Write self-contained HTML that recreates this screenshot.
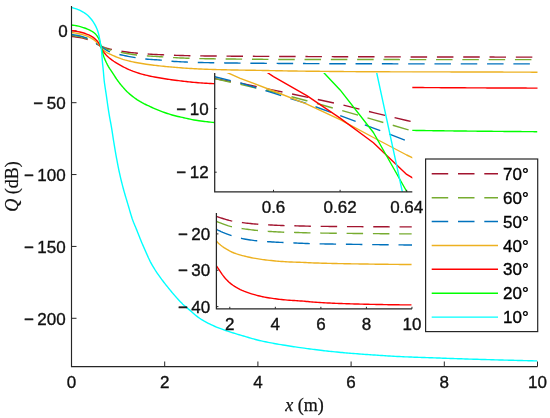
<!DOCTYPE html>
<html><head><meta charset="utf-8"><style>html,body{margin:0;padding:0;background:#fff;}svg{display:block;}</style></head><body>
<svg width="550" height="418" viewBox="0 0 550 418">
<defs>
<clipPath id="cpm"><rect x="71.5" y="0" width="470" height="367"/></clipPath>
<clipPath id="cp1"><rect x="214.7" y="72.9" width="197.60000000000002" height="118.9"/></clipPath>
<clipPath id="cp2"><rect x="216.4" y="212.9" width="195.6" height="95.9"/></clipPath>
</defs>
<rect width="550" height="418" fill="#fff"/>
<g stroke="#262626" stroke-width="1" fill="none">
<path d="M71.5,30.83 h5"/>
<path d="M71.5,102.69 h5"/>
<path d="M71.5,174.56 h5"/>
<path d="M71.5,246.43 h5"/>
<path d="M71.5,318.29 h5"/>
<path d="M71.50,366.5 v-5"/>
<path d="M164.70,366.5 v-5"/>
<path d="M257.90,366.5 v-5"/>
<path d="M351.10,366.5 v-5"/>
<path d="M444.30,366.5 v-5"/>
<path d="M537.50,366.5 v-5"/>
</g>
<g fill="none" stroke-width="1.4" stroke-linejoin="round" clip-path="url(#cpm)">
<path d="M71.50,36.52 L73.00,36.65 L74.49,36.80 L75.98,36.97 L77.96,37.25 L79.94,37.56 L81.41,37.84 L82.89,38.14 L84.35,38.49 L86.26,39.04 L88.12,39.71 L89.94,40.52 L91.72,41.43 L93.04,42.14 L94.37,42.86 L95.70,43.56 L97.03,44.24 L98.38,44.90 L99.74,45.54 L101.10,46.16 L102.93,46.96 L104.79,47.68 L106.69,48.28 L108.62,48.78 L110.08,49.11 L111.55,49.43 L113.02,49.73 L114.50,50.02 L115.97,50.31 L117.44,50.59 L118.92,50.86 L120.89,51.19 L122.87,51.49 L124.85,51.78 L126.83,52.04 L128.32,52.23 L129.81,52.41 L131.30,52.58 L132.79,52.74 L134.28,52.90 L135.77,53.06 L137.27,53.20 L138.76,53.34 L140.75,53.52 L142.25,53.65 L143.74,53.77 L145.24,53.89 L147.23,54.03 L149.23,54.15 L151.22,54.27 L153.22,54.37 L155.22,54.47 L156.72,54.54 L158.22,54.61 L159.71,54.67 L161.21,54.74 L162.71,54.80 L164.21,54.87 L165.71,54.94 L167.21,55.00 L168.71,55.07 L170.21,55.14 L172.20,55.22 L174.20,55.29 L176.20,55.35 L178.20,55.41 L180.20,55.47 L181.70,55.51 L183.20,55.55 L184.70,55.59 L186.20,55.62 L187.70,55.66 L189.20,55.69 L190.70,55.73 L192.20,55.76 L193.70,55.78 L195.20,55.81 L196.70,55.84 L198.70,55.87 L200.69,55.90 L202.69,55.92 L204.69,55.94 L206.69,55.97 L208.69,55.99 L210.69,56.01 L212.69,56.03 L214.69,56.05 L216.69,56.07 L218.19,56.08 L219.69,56.09 L221.19,56.11 L222.69,56.12 L224.19,56.13 L225.69,56.14 L227.19,56.15 L228.69,56.16 L230.19,56.17 L231.69,56.18 L233.19,56.19 L234.69,56.20 L236.19,56.21 L237.69,56.22 L239.19,56.23 L240.69,56.24 L242.19,56.25 L243.69,56.26 L245.19,56.27 L246.69,56.28 L248.19,56.29 L249.69,56.30 L251.69,56.31 L253.69,56.32 L255.69,56.33 L257.69,56.34 L259.69,56.36 L261.69,56.37 L263.19,56.37 L264.69,56.38 L266.19,56.39 L267.69,56.40 L269.19,56.40 L270.69,56.41 L272.19,56.42 L273.69,56.43 L275.19,56.43 L276.69,56.44 L278.19,56.45 L279.69,56.45 L281.19,56.46 L282.69,56.47 L284.19,56.47 L285.69,56.48 L287.19,56.49 L288.69,56.49 L290.69,56.50 L292.69,56.51 L294.69,56.52 L296.69,56.53 L298.69,56.54 L300.69,56.55 L302.69,56.55 L304.69,56.56 L306.69,56.57 L308.69,56.58 L310.19,56.58 L311.69,56.59 L313.19,56.60 L314.69,56.60 L316.19,56.61 L317.69,56.61 L319.19,56.62 L320.69,56.63 L322.19,56.63 L323.69,56.64 L325.19,56.64 L326.69,56.65 L328.19,56.65 L329.69,56.66 L331.19,56.67 L332.69,56.67 L334.19,56.68 L335.69,56.68 L337.19,56.69 L338.69,56.69 L340.19,56.70 L341.69,56.70 L343.19,56.71 L344.69,56.71 L346.19,56.72 L347.69,56.73 L349.19,56.73 L350.69,56.74 L352.19,56.74 L353.69,56.75 L355.19,56.75 L356.69,56.76 L358.19,56.76 L359.69,56.77 L361.69,56.77 L363.69,56.78 L365.69,56.79 L367.69,56.79 L369.69,56.80 L371.69,56.81 L373.69,56.81 L375.19,56.82 L376.69,56.82 L378.19,56.83 L379.69,56.83 L381.19,56.84 L382.69,56.84 L384.19,56.85 L385.69,56.85 L387.19,56.86 L388.69,56.86 L390.19,56.87 L391.69,56.87 L393.19,56.88 L394.69,56.88 L396.19,56.89 L397.69,56.89 L399.19,56.90 L400.69,56.90 L402.19,56.91 L403.69,56.91 L405.19,56.92 L406.69,56.92 L408.19,56.92 L409.69,56.93 L411.19,56.93 L412.69,56.94 L414.19,56.94 L415.69,56.95 L417.19,56.95 L418.69,56.95 L420.69,56.96 L422.69,56.96 L424.69,56.97 L426.69,56.97 L428.69,56.98 L430.69,56.98 L432.69,56.99 L434.69,56.99 L436.69,56.99 L438.69,57.00 L440.69,57.00 L442.69,57.00 L444.69,57.01 L446.69,57.01 L448.69,57.01 L450.69,57.02 L452.69,57.02 L454.69,57.02 L456.69,57.03 L458.69,57.03 L460.69,57.03 L462.69,57.03 L464.69,57.04 L466.69,57.04 L468.69,57.04 L470.69,57.05 L472.69,57.05 L474.69,57.05 L476.69,57.05 L478.69,57.06 L480.69,57.06 L482.69,57.06 L484.69,57.06 L486.19,57.07 L487.69,57.07 L489.19,57.07 L490.69,57.07 L492.19,57.07 L493.69,57.07 L495.19,57.08 L496.69,57.08 L498.19,57.08 L499.69,57.08 L501.19,57.08 L502.69,57.08 L504.19,57.08 L505.69,57.09 L507.19,57.09 L508.69,57.09 L510.19,57.09 L511.69,57.09 L513.19,57.09 L514.69,57.09 L516.19,57.09 L517.69,57.09 L519.19,57.09 L520.69,57.10 L522.19,57.10 L523.69,57.10 L525.19,57.10 L526.69,57.10 L528.69,57.10 L530.69,57.10 L532.68,57.10 L534.61,57.10 L536.40,57.10 L537.21,57.10" stroke="#A2142F" stroke-dasharray="16.5 9.8"/>
<path d="M71.50,35.53 L73.00,35.66 L74.49,35.82 L75.98,36.01 L77.96,36.31 L79.92,36.68 L81.87,37.12 L83.32,37.50 L84.76,37.93 L86.64,38.59 L88.47,39.37 L90.25,40.25 L91.56,40.98 L92.87,41.73 L94.17,42.49 L95.46,43.25 L96.77,43.99 L98.53,44.94 L100.30,45.87 L102.05,46.82 L103.80,47.76 L105.59,48.59 L107.45,49.24 L109.38,49.77 L110.84,50.12 L112.31,50.47 L113.77,50.81 L115.23,51.15 L116.70,51.48 L118.16,51.80 L120.12,52.21 L122.08,52.60 L124.05,52.97 L125.52,53.24 L127.00,53.50 L128.48,53.76 L129.96,54.00 L131.44,54.23 L132.93,54.45 L134.91,54.72 L136.89,54.97 L138.88,55.18 L140.87,55.38 L142.36,55.51 L143.86,55.64 L145.35,55.76 L146.85,55.87 L148.35,55.98 L150.34,56.11 L152.34,56.24 L153.83,56.33 L155.33,56.42 L156.83,56.50 L158.33,56.59 L159.83,56.68 L161.32,56.77 L162.82,56.86 L164.32,56.97 L165.81,57.07 L167.31,57.18 L168.80,57.29 L170.80,57.43 L172.80,57.56 L174.79,57.67 L176.79,57.77 L178.79,57.87 L180.28,57.94 L181.78,58.00 L183.28,58.07 L184.78,58.13 L186.28,58.19 L187.78,58.25 L189.28,58.30 L190.78,58.35 L192.28,58.40 L193.78,58.45 L195.28,58.49 L197.28,58.54 L199.28,58.58 L201.27,58.62 L203.27,58.66 L205.27,58.69 L207.27,58.73 L209.27,58.76 L211.27,58.79 L213.27,58.82 L215.27,58.84 L217.27,58.87 L218.77,58.89 L220.27,58.91 L221.77,58.93 L223.27,58.94 L224.77,58.96 L226.27,58.98 L227.77,58.99 L229.27,59.01 L230.77,59.02 L232.27,59.04 L233.77,59.05 L235.27,59.07 L236.77,59.08 L238.27,59.09 L239.77,59.11 L241.27,59.12 L242.77,59.13 L244.27,59.15 L245.77,59.16 L247.27,59.18 L248.77,59.19 L250.27,59.20 L251.77,59.22 L253.27,59.23 L254.77,59.25 L256.27,59.26 L257.77,59.27 L259.27,59.29 L260.77,59.30 L262.27,59.32 L263.77,59.33 L265.27,59.35 L266.77,59.36 L268.27,59.37 L269.77,59.39 L271.27,59.40 L272.77,59.41 L274.27,59.43 L275.77,59.44 L277.27,59.45 L278.77,59.46 L280.77,59.47 L282.77,59.48 L284.77,59.49 L286.77,59.49 L288.77,59.50 L290.77,59.50 L292.77,59.50 L294.77,59.50 L296.77,59.51 L298.77,59.51 L300.77,59.51 L302.77,59.51 L304.77,59.51 L306.77,59.52 L308.77,59.52 L310.77,59.52 L312.77,59.52 L314.77,59.52 L316.77,59.52 L318.77,59.53 L320.77,59.53 L322.77,59.53 L324.77,59.53 L326.77,59.53 L328.77,59.53 L330.77,59.54 L332.77,59.54 L334.77,59.54 L336.77,59.54 L338.77,59.54 L340.77,59.54 L342.77,59.54 L344.77,59.54 L346.77,59.55 L348.77,59.55 L350.77,59.55 L352.77,59.55 L354.77,59.55 L356.77,59.55 L358.77,59.55 L360.77,59.56 L362.77,59.56 L364.77,59.56 L366.77,59.56 L368.77,59.56 L370.77,59.56 L372.77,59.56 L374.77,59.56 L376.77,59.56 L378.77,59.57 L380.77,59.57 L382.77,59.57 L384.77,59.57 L386.77,59.57 L388.77,59.57 L390.77,59.57 L392.77,59.57 L394.77,59.57 L396.77,59.57 L398.77,59.57 L400.77,59.58 L402.77,59.58 L404.77,59.58 L406.77,59.58 L408.77,59.58 L410.77,59.58 L412.77,59.58 L414.77,59.58 L416.77,59.58 L418.77,59.58 L420.77,59.58 L422.77,59.58 L424.77,59.58 L426.27,59.58 L427.77,59.58 L429.27,59.59 L430.77,59.59 L432.27,59.59 L433.77,59.59 L435.27,59.59 L436.77,59.59 L438.27,59.59 L439.77,59.59 L441.27,59.59 L442.77,59.59 L444.27,59.59 L445.77,59.59 L447.27,59.59 L448.77,59.59 L450.27,59.59 L451.77,59.59 L453.27,59.59 L454.77,59.59 L456.27,59.59 L457.77,59.59 L459.27,59.59 L460.77,59.59 L462.27,59.59 L463.77,59.59 L465.27,59.59 L466.77,59.59 L468.27,59.59 L469.77,59.59 L471.27,59.60 L472.77,59.60 L474.27,59.60 L475.77,59.60 L477.27,59.60 L478.77,59.60 L480.27,59.60 L481.77,59.60 L483.27,59.60 L484.77,59.60 L486.27,59.60 L487.77,59.60 L489.27,59.60 L490.77,59.60 L492.27,59.60 L493.77,59.60 L495.27,59.60 L496.77,59.60 L498.27,59.60 L499.77,59.60 L501.27,59.60 L502.77,59.60 L504.27,59.60 L505.77,59.60 L507.27,59.60 L508.77,59.60 L510.27,59.60 L511.77,59.60 L513.27,59.60 L514.77,59.60 L516.27,59.60 L517.77,59.60 L519.27,59.60 L520.77,59.60 L522.27,59.60 L523.77,59.60 L525.27,59.60 L526.77,59.60 L528.27,59.60 L530.27,59.60 L532.26,59.60 L534.20,59.60 L535.96,59.60 L537.09,59.60" stroke="#77AC30" stroke-dasharray="16.5 9.8"/>
<path d="M71.49,34.53 L72.99,34.69 L74.49,34.88 L75.97,35.11 L77.94,35.46 L79.89,35.88 L81.82,36.38 L83.26,36.81 L84.68,37.29 L86.54,38.00 L88.36,38.82 L90.13,39.73 L91.87,40.72 L93.16,41.50 L94.44,42.28 L95.72,43.07 L97.00,43.85 L98.72,44.88 L100.41,45.93 L102.03,47.07 L103.59,48.30 L105.19,49.47 L106.89,50.49 L108.68,51.35 L110.54,52.08 L112.43,52.71 L114.35,53.26 L115.80,53.65 L117.26,54.01 L118.73,54.36 L120.19,54.70 L121.65,55.02 L123.61,55.44 L125.08,55.75 L126.55,56.04 L128.02,56.32 L129.50,56.60 L130.98,56.87 L132.46,57.12 L133.93,57.37 L135.42,57.61 L137.39,57.92 L138.88,58.14 L140.36,58.35 L141.85,58.55 L143.83,58.80 L145.82,59.01 L147.81,59.19 L149.80,59.35 L151.80,59.49 L153.30,59.59 L154.79,59.69 L156.29,59.79 L157.79,59.90 L159.28,60.01 L160.78,60.13 L162.27,60.27 L163.76,60.42 L165.26,60.59 L166.75,60.76 L168.24,60.92 L170.23,61.12 L172.22,61.29 L174.21,61.43 L176.20,61.55 L178.20,61.67 L180.20,61.78 L181.70,61.85 L183.19,61.92 L184.69,61.99 L186.19,62.06 L187.69,62.12 L189.19,62.18 L190.69,62.23 L192.19,62.28 L193.69,62.33 L195.19,62.37 L196.69,62.42 L198.19,62.45 L200.19,62.50 L202.19,62.55 L204.19,62.59 L206.19,62.63 L208.19,62.66 L210.19,62.70 L212.19,62.74 L214.19,62.77 L216.19,62.80 L217.69,62.82 L219.19,62.85 L220.69,62.87 L222.19,62.89 L223.69,62.91 L225.19,62.93 L226.69,62.95 L228.19,62.97 L229.69,62.99 L231.19,63.00 L232.69,63.02 L234.19,63.04 L235.69,63.05 L237.19,63.07 L238.69,63.09 L240.19,63.10 L241.69,63.12 L243.19,63.13 L244.69,63.15 L246.19,63.16 L247.69,63.18 L249.19,63.19 L250.69,63.21 L252.69,63.23 L254.69,63.24 L256.69,63.26 L258.69,63.28 L260.69,63.30 L262.19,63.31 L263.69,63.32 L265.19,63.33 L266.69,63.35 L268.19,63.36 L269.69,63.37 L271.19,63.38 L272.69,63.39 L274.19,63.40 L275.69,63.41 L277.19,63.42 L278.69,63.43 L280.18,63.44 L281.68,63.45 L283.18,63.46 L284.68,63.47 L286.68,63.48 L288.68,63.49 L290.68,63.50 L292.68,63.51 L294.68,63.52 L296.68,63.53 L298.68,63.54 L300.68,63.55 L302.68,63.56 L304.68,63.57 L306.18,63.58 L307.68,63.59 L309.18,63.60 L310.68,63.60 L312.18,63.61 L313.68,63.62 L315.18,63.63 L316.68,63.63 L318.18,63.64 L319.68,63.65 L321.18,63.65 L322.68,63.66 L324.18,63.67 L325.68,63.67 L327.18,63.68 L328.68,63.69 L330.18,63.69 L331.68,63.70 L333.18,63.70 L334.68,63.71 L336.18,63.71 L337.68,63.72 L339.18,63.73 L340.68,63.73 L342.18,63.74 L343.68,63.74 L345.18,63.75 L346.68,63.75 L348.18,63.75 L349.68,63.76 L351.18,63.76 L352.68,63.77 L354.18,63.77 L355.68,63.77 L357.68,63.78 L359.68,63.78 L361.68,63.79 L363.68,63.79 L365.68,63.79 L367.68,63.80 L369.68,63.80 L371.68,63.80 L373.68,63.80 L375.68,63.81 L377.68,63.81 L379.68,63.81 L381.68,63.81 L383.68,63.81 L385.68,63.82 L387.68,63.82 L389.68,63.82 L391.68,63.82 L393.68,63.83 L395.68,63.83 L397.68,63.83 L399.68,63.83 L401.68,63.83 L403.68,63.83 L405.68,63.84 L407.68,63.84 L409.68,63.84 L411.68,63.84 L413.68,63.84 L415.68,63.85 L417.68,63.85 L419.68,63.85 L421.68,63.85 L423.68,63.85 L425.68,63.85 L427.68,63.86 L429.68,63.86 L431.68,63.86 L433.68,63.86 L435.68,63.86 L437.68,63.86 L439.68,63.86 L441.68,63.87 L443.68,63.87 L445.68,63.87 L447.68,63.87 L449.68,63.87 L451.68,63.87 L453.68,63.87 L455.68,63.87 L457.68,63.88 L459.18,63.88 L460.68,63.88 L462.18,63.88 L463.68,63.88 L465.18,63.88 L466.68,63.88 L468.18,63.88 L469.68,63.88 L471.18,63.88 L472.68,63.88 L474.18,63.88 L475.68,63.89 L477.18,63.89 L478.68,63.89 L480.18,63.89 L481.68,63.89 L483.18,63.89 L484.68,63.89 L486.18,63.89 L487.68,63.89 L489.18,63.89 L490.68,63.89 L492.18,63.89 L493.68,63.89 L495.18,63.89 L496.68,63.89 L498.18,63.89 L499.68,63.89 L501.18,63.89 L502.68,63.90 L504.18,63.90 L505.68,63.90 L507.18,63.90 L508.68,63.90 L510.18,63.90 L511.68,63.90 L513.18,63.90 L514.68,63.90 L516.18,63.90 L517.68,63.90 L519.18,63.90 L520.68,63.90 L522.18,63.90 L523.68,63.90 L525.18,63.90 L526.68,63.90 L528.68,63.90 L530.68,63.90 L532.67,63.90 L534.61,63.90 L536.40,63.90 L537.22,63.90" stroke="#0072BD" stroke-dasharray="16.5 9.8"/>
<path d="M71.50,32.52 L72.99,32.72 L74.47,32.93 L75.96,33.18 L77.92,33.54 L79.88,33.96 L81.82,34.44 L83.26,34.84 L85.17,35.44 L87.04,36.14 L88.87,36.95 L90.64,37.86 L92.36,38.88 L93.99,40.02 L95.54,41.28 L97.01,42.63 L98.39,44.08 L99.68,45.60 L100.92,47.17 L102.17,48.72 L103.52,50.16 L105.03,51.43 L106.69,52.51 L108.44,53.45 L109.80,54.10 L111.17,54.72 L112.54,55.33 L113.92,55.92 L115.30,56.50 L116.69,57.06 L118.09,57.61 L119.49,58.15 L120.90,58.66 L122.80,59.30 L124.70,59.88 L126.63,60.41 L128.57,60.90 L130.03,61.25 L131.49,61.58 L132.96,61.89 L134.43,62.20 L135.90,62.49 L137.38,62.77 L138.85,63.05 L140.33,63.31 L141.81,63.56 L143.29,63.81 L144.77,64.04 L146.25,64.26 L148.23,64.54 L150.22,64.81 L152.20,65.05 L153.69,65.23 L155.18,65.40 L156.67,65.57 L158.16,65.73 L159.66,65.88 L161.65,66.09 L163.64,66.29 L165.13,66.44 L166.62,66.58 L168.11,66.73 L169.61,66.87 L171.10,67.01 L172.60,67.15 L174.09,67.28 L175.58,67.41 L177.08,67.53 L178.57,67.66 L180.57,67.81 L182.56,67.96 L184.56,68.10 L186.55,68.23 L188.55,68.36 L190.05,68.45 L191.54,68.54 L193.04,68.63 L194.54,68.71 L196.04,68.79 L197.54,68.87 L199.03,68.94 L201.03,69.03 L203.03,69.11 L205.03,69.19 L207.03,69.26 L209.02,69.33 L211.02,69.39 L212.52,69.44 L214.02,69.49 L215.52,69.53 L217.02,69.58 L218.52,69.62 L220.02,69.66 L221.52,69.70 L223.02,69.74 L224.52,69.77 L226.02,69.81 L227.52,69.84 L229.52,69.89 L231.52,69.93 L233.52,69.97 L235.52,70.01 L237.52,70.04 L239.52,70.08 L241.52,70.11 L243.02,70.13 L244.52,70.16 L246.02,70.18 L247.52,70.20 L249.01,70.23 L250.51,70.25 L252.01,70.27 L253.51,70.30 L255.01,70.32 L256.51,70.34 L258.01,70.37 L259.51,70.39 L261.01,70.42 L262.51,70.44 L264.01,70.47 L265.51,70.50 L267.01,70.53 L268.51,70.55 L270.01,70.58 L271.51,70.61 L273.01,70.64 L274.51,70.67 L276.01,70.70 L277.51,70.73 L279.01,70.76 L280.51,70.78 L282.01,70.81 L283.51,70.84 L285.01,70.87 L286.51,70.89 L288.51,70.93 L290.51,70.96 L292.51,70.99 L294.51,71.02 L296.51,71.05 L298.51,71.08 L300.51,71.11 L302.51,71.13 L304.51,71.15 L306.51,71.18 L308.51,71.20 L310.51,71.23 L312.51,71.25 L314.51,71.27 L316.01,71.29 L317.51,71.31 L319.01,71.32 L320.51,71.34 L322.01,71.36 L323.51,71.37 L325.01,71.39 L326.51,71.41 L328.01,71.42 L329.51,71.44 L331.01,71.45 L332.51,71.47 L334.01,71.49 L335.51,71.50 L337.01,71.51 L338.51,71.53 L340.01,71.54 L341.51,71.56 L343.01,71.57 L344.51,71.58 L346.01,71.60 L347.51,71.61 L349.01,71.62 L350.51,71.64 L352.01,71.65 L353.51,71.66 L355.00,71.67 L356.50,71.68 L358.00,71.69 L359.50,71.70 L361.00,71.71 L362.50,71.72 L364.00,71.73 L365.50,71.74 L367.00,71.75 L369.00,71.76 L371.00,71.77 L373.00,71.78 L375.00,71.78 L377.00,71.79 L379.00,71.80 L381.00,71.80 L383.00,71.81 L385.00,71.81 L387.00,71.82 L389.00,71.82 L391.00,71.83 L393.00,71.83 L395.00,71.83 L397.00,71.84 L399.00,71.84 L400.50,71.84 L402.00,71.84 L403.50,71.85 L405.00,71.85 L406.50,71.85 L408.00,71.85 L409.50,71.85 L411.00,71.86 L412.50,71.86 L414.00,71.86 L415.50,71.86 L417.00,71.86 L418.50,71.87 L420.00,71.87 L421.50,71.87 L423.00,71.87 L424.50,71.87 L426.00,71.88 L427.50,71.88 L429.00,71.88 L430.50,71.88 L432.00,71.89 L433.50,71.89 L435.00,71.89 L436.50,71.89 L438.00,71.90 L439.50,71.90 L441.50,71.90 L443.50,71.91 L445.50,71.91 L447.50,71.92 L449.50,71.92 L451.50,71.93 L453.50,71.93 L455.50,71.94 L457.50,71.94 L459.50,71.95 L461.50,71.95 L463.50,71.96 L465.50,71.96 L467.50,71.97 L469.50,71.97 L471.50,71.98 L473.50,71.98 L475.50,71.99 L477.50,71.99 L479.50,72.00 L481.50,72.01 L483.00,72.01 L484.50,72.01 L486.00,72.02 L487.50,72.02 L489.00,72.03 L490.50,72.03 L492.00,72.04 L493.50,72.04 L495.00,72.05 L496.50,72.05 L498.00,72.06 L499.50,72.06 L501.00,72.07 L502.50,72.07 L504.00,72.08 L505.50,72.08 L507.00,72.09 L508.50,72.09 L510.00,72.10 L511.50,72.10 L513.00,72.11 L514.50,72.11 L516.00,72.12 L517.50,72.12 L519.00,72.13 L520.50,72.14 L522.00,72.14 L523.50,72.15 L525.00,72.15 L526.50,72.16 L528.00,72.16 L530.00,72.17 L532.00,72.18 L534.00,72.19 L536.00,72.19 L537.49,72.20" stroke="#EDB120"/>
<path d="M71.49,30.63 L72.99,30.79 L74.48,30.99 L75.97,31.21 L77.93,31.57 L79.89,31.98 L81.82,32.47 L83.74,33.03 L85.16,33.51 L86.57,34.04 L87.96,34.61 L89.32,35.23 L91.10,36.15 L92.80,37.19 L94.41,38.35 L95.91,39.66 L97.29,41.10 L98.51,42.66 L99.57,44.34 L100.50,46.11 L101.35,47.92 L102.22,49.71 L103.22,51.42 L104.38,53.03 L105.69,54.53 L107.10,55.95 L108.21,56.96 L109.34,57.94 L110.51,58.89 L112.10,60.09 L113.73,61.24 L115.41,62.33 L116.68,63.12 L117.97,63.89 L119.27,64.64 L120.58,65.38 L121.90,66.10 L123.22,66.81 L124.55,67.50 L125.90,68.18 L127.25,68.83 L129.06,69.66 L130.90,70.44 L132.76,71.18 L134.17,71.70 L135.58,72.20 L137.00,72.67 L138.91,73.27 L140.83,73.83 L142.76,74.36 L144.21,74.74 L145.67,75.10 L147.13,75.44 L148.59,75.78 L150.55,76.19 L152.51,76.59 L154.47,76.96 L155.95,77.23 L157.43,77.49 L158.91,77.74 L160.39,77.99 L161.87,78.24 L163.35,78.48 L164.83,78.72 L166.31,78.96 L167.79,79.19 L169.27,79.41 L171.25,79.70 L173.23,79.98 L175.22,80.24 L177.20,80.50 L178.69,80.68 L180.18,80.86 L181.67,81.03 L183.16,81.20 L184.65,81.37 L186.14,81.54 L187.63,81.70 L189.12,81.86 L190.61,82.02 L192.11,82.18 L194.10,82.37 L196.09,82.55 L198.08,82.71 L200.08,82.86 L202.07,83.00 L203.57,83.10 L205.06,83.20 L206.56,83.29 L208.06,83.38 L209.56,83.46 L211.05,83.55 L213.05,83.65 L215.05,83.75 L217.05,83.84 L219.04,83.94 L221.04,84.03 L223.04,84.12 L225.04,84.20 L226.54,84.27 L228.04,84.33 L229.53,84.39 L231.03,84.45 L232.53,84.51 L234.03,84.57 L235.53,84.63 L237.03,84.68 L238.53,84.74 L240.03,84.79 L241.53,84.84 L243.03,84.90 L244.53,84.95 L246.03,85.00 L247.52,85.04 L249.02,85.09 L250.52,85.14 L252.02,85.18 L253.52,85.22 L255.52,85.28 L257.52,85.33 L259.52,85.39 L261.52,85.44 L263.52,85.49 L265.52,85.54 L267.52,85.58 L269.52,85.63 L271.52,85.68 L273.51,85.72 L275.51,85.77 L277.51,85.81 L279.51,85.85 L281.01,85.88 L282.51,85.92 L284.01,85.95 L285.51,85.98 L287.01,86.01 L288.51,86.04 L290.01,86.06 L291.51,86.09 L293.01,86.12 L294.51,86.15 L296.01,86.18 L297.51,86.20 L299.01,86.23 L300.51,86.26 L302.01,86.28 L303.51,86.31 L305.01,86.33 L306.51,86.36 L308.01,86.38 L309.51,86.41 L311.01,86.43 L312.51,86.45 L314.01,86.48 L315.51,86.50 L317.01,86.52 L318.51,86.54 L320.01,86.56 L321.51,86.59 L323.01,86.61 L324.51,86.63 L326.51,86.65 L328.51,86.68 L330.51,86.71 L332.51,86.73 L334.51,86.76 L336.51,86.78 L338.51,86.81 L340.51,86.83 L342.51,86.85 L344.51,86.88 L346.51,86.90 L348.51,86.92 L350.51,86.95 L352.51,86.97 L354.01,86.99 L355.51,87.00 L357.01,87.02 L358.51,87.03 L360.01,87.05 L361.50,87.07 L363.00,87.08 L364.50,87.10 L366.00,87.11 L367.50,87.13 L369.00,87.14 L370.50,87.16 L372.00,87.17 L373.50,87.19 L375.00,87.20 L376.50,87.21 L378.00,87.23 L379.50,87.24 L381.00,87.25 L382.50,87.27 L384.00,87.28 L385.50,87.29 L387.00,87.31 L388.50,87.32 L390.00,87.33 L391.50,87.34 L393.00,87.36 L394.50,87.37 L396.00,87.38 L397.50,87.39 L399.00,87.40 L400.50,87.41 L402.00,87.43 L403.50,87.44 L405.00,87.45 L407.00,87.46 L409.00,87.48 L411.00,87.49 L413.00,87.50 L415.00,87.52 L417.00,87.53 L419.00,87.54 L421.00,87.55 L423.00,87.57 L425.00,87.58 L427.00,87.59 L429.00,87.61 L431.00,87.62 L433.00,87.63 L435.00,87.64 L437.00,87.66 L439.00,87.67 L441.00,87.68 L443.00,87.69 L445.00,87.71 L447.00,87.72 L449.00,87.73 L451.00,87.74 L453.00,87.75 L455.00,87.76 L457.00,87.78 L459.00,87.79 L461.00,87.80 L463.00,87.81 L465.00,87.82 L467.00,87.83 L469.00,87.84 L470.50,87.85 L472.00,87.86 L473.50,87.87 L475.00,87.87 L476.50,87.88 L478.00,87.89 L479.50,87.90 L481.00,87.90 L482.50,87.91 L484.00,87.92 L485.50,87.92 L487.00,87.93 L488.50,87.94 L490.00,87.95 L491.50,87.95 L493.00,87.96 L494.50,87.96 L496.00,87.97 L497.50,87.98 L499.00,87.98 L500.50,87.99 L502.00,88.00 L503.50,88.00 L505.00,88.01 L506.50,88.01 L508.00,88.02 L509.50,88.02 L511.00,88.03 L512.50,88.03 L514.00,88.04 L515.50,88.04 L517.00,88.05 L518.50,88.05 L520.00,88.06 L521.50,88.06 L523.00,88.07 L524.50,88.07 L526.00,88.07 L527.50,88.08 L529.00,88.08 L530.50,88.09 L532.50,88.09 L534.50,88.09 L536.50,88.10 L537.50,88.10" stroke="#FF0000"/>
<path d="M71.49,25.03 L72.99,25.21 L74.47,25.42 L76.44,25.76 L78.39,26.18 L80.32,26.69 L81.77,27.11 L83.20,27.56 L84.63,28.03 L86.04,28.53 L87.44,29.06 L89.28,29.86 L91.06,30.76 L92.77,31.80 L94.35,32.98 L95.79,34.34 L97.06,35.86 L98.13,37.53 L99.00,39.31 L99.70,41.18 L100.27,43.09 L100.75,45.03 L101.09,46.49 L101.43,47.95 L101.78,49.41 L102.14,50.87 L102.52,52.32 L103.06,54.25 L103.66,56.15 L104.34,58.03 L105.10,59.88 L105.93,61.70 L106.58,63.05 L107.50,64.82 L108.47,66.57 L109.50,68.28 L110.58,69.96 L111.40,71.22 L112.23,72.47 L113.05,73.72 L113.87,74.98 L114.69,76.24 L115.51,77.50 L116.63,79.15 L117.79,80.78 L118.99,82.38 L120.22,83.95 L121.17,85.11 L122.13,86.26 L123.11,87.40 L124.10,88.53 L125.45,90.01 L126.84,91.44 L128.29,92.81 L129.80,94.13 L131.34,95.40 L132.52,96.33 L133.70,97.24 L135.31,98.44 L136.95,99.58 L138.62,100.67 L140.33,101.70 L142.08,102.68 L143.84,103.61 L145.64,104.50 L147.44,105.35 L148.81,105.98 L150.17,106.61 L151.53,107.24 L153.35,108.06 L155.18,108.87 L157.02,109.65 L158.87,110.41 L160.74,111.14 L162.61,111.84 L164.49,112.52 L165.91,113.01 L167.33,113.49 L168.75,113.96 L170.19,114.41 L172.10,114.98 L174.03,115.51 L175.96,116.01 L177.91,116.47 L179.37,116.79 L180.84,117.12 L182.30,117.44 L183.77,117.76 L185.23,118.09 L186.70,118.43 L188.16,118.76 L190.11,119.19 L192.07,119.58 L194.04,119.95 L196.01,120.28 L197.49,120.52 L198.97,120.74 L200.95,121.02 L202.94,121.28 L204.43,121.47 L205.92,121.65 L207.41,121.82 L208.90,121.99 L210.39,122.15 L212.38,122.34 L214.37,122.52 L216.36,122.70 L218.35,122.86 L220.35,123.02 L222.34,123.18 L224.33,123.33 L226.33,123.47 L228.32,123.62 L229.82,123.72 L231.32,123.82 L232.81,123.92 L234.31,124.02 L235.81,124.12 L237.30,124.21 L238.80,124.31 L240.30,124.40 L241.80,124.49 L243.30,124.58 L244.79,124.67 L246.29,124.75 L247.79,124.84 L249.29,124.92 L250.79,125.00 L252.28,125.09 L253.78,125.17 L255.28,125.25 L256.78,125.33 L258.78,125.43 L260.77,125.54 L262.77,125.64 L264.77,125.75 L266.76,125.85 L268.76,125.95 L270.76,126.05 L272.76,126.15 L274.25,126.23 L275.75,126.30 L277.25,126.37 L278.75,126.45 L280.25,126.52 L281.75,126.59 L283.24,126.66 L284.74,126.73 L286.24,126.80 L287.74,126.87 L289.24,126.94 L290.74,127.01 L292.24,127.07 L293.73,127.14 L295.23,127.20 L296.73,127.27 L298.23,127.33 L299.73,127.40 L301.23,127.46 L302.73,127.52 L304.23,127.58 L305.72,127.64 L307.22,127.70 L308.72,127.76 L310.22,127.82 L311.72,127.88 L313.22,127.93 L314.72,127.99 L316.22,128.04 L317.72,128.10 L319.72,128.17 L321.71,128.23 L323.71,128.30 L325.71,128.37 L327.71,128.43 L329.71,128.49 L331.71,128.55 L333.71,128.61 L335.71,128.67 L337.71,128.73 L339.70,128.78 L341.70,128.84 L343.70,128.90 L345.70,128.95 L347.70,129.01 L349.70,129.06 L351.70,129.11 L353.20,129.15 L354.70,129.19 L356.20,129.23 L357.70,129.27 L359.20,129.31 L360.70,129.35 L362.20,129.38 L363.70,129.42 L365.20,129.46 L366.69,129.49 L368.19,129.53 L369.69,129.56 L371.19,129.60 L372.69,129.63 L374.19,129.67 L375.69,129.70 L377.19,129.73 L378.69,129.77 L380.19,129.80 L381.69,129.83 L383.19,129.86 L384.69,129.89 L386.19,129.92 L387.69,129.95 L389.19,129.98 L390.69,130.01 L392.19,130.04 L393.69,130.07 L395.19,130.10 L396.69,130.13 L398.19,130.16 L399.69,130.18 L401.19,130.21 L402.69,130.24 L404.19,130.26 L406.19,130.30 L408.19,130.33 L410.19,130.36 L412.19,130.39 L414.19,130.42 L416.19,130.45 L418.19,130.48 L420.19,130.51 L422.19,130.54 L424.19,130.57 L426.19,130.60 L428.19,130.62 L430.19,130.65 L431.69,130.67 L433.18,130.69 L434.68,130.71 L436.18,130.73 L437.68,130.74 L439.18,130.76 L440.68,130.78 L442.18,130.80 L443.68,130.82 L445.18,130.83 L446.68,130.85 L448.18,130.87 L449.68,130.88 L451.18,130.90 L452.68,130.92 L454.18,130.93 L455.68,130.95 L457.18,130.97 L458.68,130.98 L460.18,131.00 L461.68,131.01 L463.18,131.03 L464.68,131.04 L466.18,131.06 L467.68,131.08 L469.68,131.10 L471.68,131.12 L473.68,131.14 L475.68,131.16 L477.68,131.18 L479.68,131.20 L481.68,131.22 L483.68,131.24 L485.68,131.26 L487.68,131.28 L489.68,131.30 L491.68,131.32 L493.68,131.33 L495.68,131.35 L497.68,131.37 L499.68,131.39 L501.18,131.40 L502.68,131.42 L504.18,131.43 L505.68,131.44 L507.18,131.46 L508.68,131.47 L510.18,131.48 L511.68,131.50 L513.18,131.51 L514.68,131.52 L516.18,131.53 L517.68,131.55 L519.18,131.56 L520.68,131.57 L522.18,131.58 L523.68,131.60 L525.18,131.61 L526.68,131.62 L528.68,131.63 L530.68,131.65 L532.67,131.66 L534.61,131.68 L536.40,131.69 L537.22,131.70" stroke="#00FF00"/>
<path d="M71.49,7.53 L72.95,7.90 L74.39,8.30 L76.30,8.91 L78.17,9.61 L79.55,10.19 L81.35,11.05 L83.10,12.02 L84.78,13.10 L86.38,14.28 L87.90,15.58 L89.33,16.97 L90.67,18.45 L91.91,20.01 L93.07,21.64 L94.14,23.33 L94.90,24.62 L95.83,26.39 L96.67,28.20 L97.41,30.06 L98.03,31.95 L98.55,33.88 L98.90,35.34 L99.22,36.80 L99.51,38.28 L99.79,39.75 L100.04,41.23 L100.29,42.71 L100.55,44.19 L100.80,45.67 L101.04,47.15 L101.33,49.13 L101.57,51.11 L101.75,53.10 L101.90,55.09 L102.00,56.59 L102.11,58.09 L102.22,59.58 L102.35,61.08 L102.48,62.57 L102.68,64.56 L102.83,66.05 L102.99,67.55 L103.15,69.04 L103.29,70.53 L103.43,72.02 L103.56,73.52 L103.68,75.01 L103.80,76.51 L103.98,78.50 L104.18,80.49 L104.41,82.47 L104.68,84.45 L104.97,86.43 L105.19,87.92 L105.43,89.40 L105.66,90.88 L105.89,92.37 L106.12,93.85 L106.34,95.33 L106.55,96.82 L106.76,98.30 L106.97,99.79 L107.18,101.27 L107.38,102.76 L107.59,104.25 L107.80,105.73 L108.09,107.71 L108.38,109.69 L108.69,111.66 L109.02,113.64 L109.35,115.61 L109.70,117.58 L109.97,119.05 L110.25,120.53 L110.52,122.00 L110.79,123.48 L111.06,124.96 L111.32,126.43 L111.66,128.40 L111.98,130.38 L112.29,132.35 L112.53,133.83 L112.75,135.32 L112.98,136.80 L113.20,138.28 L113.43,139.77 L113.66,141.25 L113.97,143.22 L114.29,145.20 L114.62,147.17 L114.95,149.14 L115.20,150.62 L115.46,152.10 L115.72,153.58 L115.98,155.05 L116.25,156.53 L116.52,158.01 L116.79,159.48 L117.16,161.45 L117.53,163.41 L117.91,165.38 L118.20,166.85 L118.50,168.32 L118.80,169.79 L119.11,171.25 L119.53,173.21 L119.97,175.16 L120.42,177.11 L120.88,179.06 L121.23,180.51 L121.59,181.97 L121.96,183.43 L122.33,184.88 L122.71,186.33 L123.22,188.26 L123.75,190.19 L124.28,192.12 L124.84,194.04 L125.40,195.96 L125.83,197.40 L126.26,198.83 L126.69,200.27 L127.13,201.71 L127.56,203.14 L127.99,204.58 L128.41,206.02 L128.83,207.46 L129.25,208.91 L129.66,210.35 L130.08,211.79 L130.50,213.23 L130.93,214.67 L131.52,216.58 L132.14,218.48 L132.80,220.36 L133.50,222.23 L134.25,224.08 L134.83,225.46 L135.42,226.85 L136.01,228.23 L136.58,229.62 L137.14,231.01 L137.70,232.40 L138.24,233.80 L138.79,235.20 L139.33,236.59 L140.07,238.45 L140.82,240.31 L141.59,242.15 L142.37,243.99 L142.97,245.37 L143.57,246.74 L144.18,248.11 L144.78,249.49 L145.39,250.86 L145.99,252.23 L146.59,253.61 L147.20,254.99 L147.81,256.36 L148.42,257.73 L149.27,259.53 L150.15,261.33 L151.08,263.10 L152.04,264.85 L152.79,266.15 L153.55,267.44 L154.33,268.72 L155.13,270.00 L156.21,271.67 L157.33,273.33 L158.47,274.97 L159.35,276.19 L160.23,277.41 L161.12,278.61 L162.02,279.81 L162.93,281.01 L163.84,282.20 L164.75,283.39 L165.68,284.57 L166.61,285.75 L167.55,286.92 L168.80,288.48 L169.75,289.64 L170.71,290.79 L171.67,291.95 L172.64,293.09 L173.61,294.23 L174.59,295.37 L175.57,296.50 L176.56,297.63 L177.57,298.75 L178.92,300.22 L180.30,301.67 L181.70,303.09 L182.77,304.14 L184.24,305.50 L185.74,306.82 L187.27,308.10 L188.82,309.36 L190.36,310.65 L191.87,311.96 L192.99,312.95 L194.12,313.94 L195.26,314.91 L196.42,315.87 L198.00,317.09 L199.62,318.26 L201.29,319.35 L203.00,320.38 L204.30,321.13 L205.62,321.85 L206.94,322.56 L208.27,323.26 L209.61,323.93 L210.96,324.59 L212.77,325.44 L214.59,326.26 L216.43,327.04 L217.82,327.61 L219.21,328.16 L220.62,328.69 L222.02,329.22 L223.90,329.89 L225.79,330.55 L227.69,331.18 L229.12,331.65 L230.54,332.11 L231.98,332.56 L233.41,333.00 L234.84,333.44 L236.28,333.88 L237.71,334.31 L239.15,334.74 L240.59,335.16 L242.03,335.59 L243.47,336.01 L244.91,336.44 L246.35,336.87 L247.79,337.29 L249.23,337.72 L250.67,338.14 L252.11,338.55 L253.56,338.95 L255.49,339.48 L257.42,339.97 L259.36,340.45 L261.31,340.90 L263.26,341.33 L265.21,341.74 L266.68,342.04 L268.16,342.33 L269.63,342.62 L271.10,342.90 L272.58,343.17 L274.06,343.45 L275.53,343.71 L277.01,343.97 L278.98,344.32 L280.95,344.65 L282.92,344.99 L284.90,345.31 L286.38,345.55 L287.86,345.78 L289.34,346.01 L290.83,346.24 L292.31,346.47 L293.79,346.69 L295.28,346.91 L296.76,347.13 L298.24,347.34 L300.22,347.63 L302.20,347.91 L304.19,348.18 L305.67,348.39 L307.16,348.59 L308.65,348.79 L310.13,348.98 L311.62,349.18 L313.11,349.37 L314.60,349.55 L316.58,349.80 L318.57,350.04 L320.55,350.28 L322.54,350.51 L324.03,350.68 L325.52,350.85 L327.01,351.01 L328.50,351.18 L329.99,351.34 L331.49,351.50 L332.98,351.65 L334.97,351.85 L336.96,352.05 L338.95,352.24 L340.94,352.43 L342.43,352.57 L343.93,352.70 L345.42,352.84 L346.91,352.97 L348.41,353.10 L349.90,353.22 L351.40,353.35 L353.39,353.51 L355.39,353.67 L357.38,353.82 L359.37,353.97 L361.37,354.12 L362.87,354.22 L364.36,354.33 L365.86,354.43 L367.35,354.54 L368.85,354.64 L370.35,354.74 L371.84,354.84 L373.34,354.94 L374.84,355.04 L376.33,355.15 L377.83,355.25 L379.33,355.35 L380.82,355.45 L382.32,355.55 L383.82,355.65 L385.32,355.75 L386.81,355.85 L388.31,355.94 L389.81,356.03 L391.30,356.13 L393.30,356.24 L395.30,356.35 L397.29,356.46 L399.29,356.56 L401.29,356.66 L403.29,356.75 L405.28,356.83 L407.28,356.92 L409.28,356.99 L411.28,357.07 L412.78,357.13 L414.28,357.18 L415.78,357.24 L417.27,357.29 L418.77,357.34 L420.27,357.40 L421.77,357.45 L423.27,357.50 L424.77,357.55 L426.27,357.60 L427.77,357.65 L429.27,357.70 L430.77,357.75 L432.27,357.80 L433.77,357.86 L435.27,357.91 L436.76,357.96 L438.26,358.02 L439.76,358.07 L441.26,358.12 L442.76,358.18 L444.26,358.23 L445.76,358.28 L447.26,358.34 L448.76,358.39 L450.26,358.44 L451.75,358.50 L453.25,358.55 L454.75,358.60 L456.25,358.65 L457.75,358.70 L459.25,358.75 L461.25,358.82 L463.25,358.89 L465.25,358.95 L467.25,359.01 L469.25,359.08 L471.24,359.14 L473.24,359.20 L475.24,359.26 L477.24,359.32 L479.24,359.38 L481.24,359.44 L483.24,359.50 L485.24,359.55 L487.24,359.61 L489.24,359.67 L491.24,359.73 L493.23,359.78 L495.23,359.84 L497.23,359.89 L499.23,359.95 L501.23,360.01 L502.73,360.05 L504.23,360.09 L505.73,360.13 L507.23,360.17 L508.73,360.21 L510.23,360.25 L511.73,360.28 L513.23,360.32 L514.73,360.36 L516.23,360.40 L517.73,360.44 L519.23,360.47 L520.72,360.51 L522.22,360.55 L523.72,360.58 L525.22,360.62 L526.72,360.66 L528.22,360.69 L530.22,360.74 L532.21,360.78 L534.16,360.83 L535.97,360.87 L537.16,360.89" stroke="#00FFFF"/>
</g>
<path d="M71.5,6 V366.6 H537.5" stroke="#262626" stroke-width="1.15" fill="none"/>
<g font-family="Liberation Sans, Arial, sans-serif" font-size="17" fill="#111" stroke="#111" stroke-width="0.35">
<text x="67.6" y="37.33" text-anchor="end">0</text>
<text x="65.6" y="109.19" text-anchor="end">− 50</text>
<text x="65.6" y="181.06" text-anchor="end">− 100</text>
<text x="65.6" y="252.93" text-anchor="end">− 150</text>
<text x="65.6" y="324.79" text-anchor="end">− 200</text>
<text x="71.50" y="387.8" text-anchor="middle">0</text>
<text x="164.70" y="387.8" text-anchor="middle">2</text>
<text x="257.90" y="387.8" text-anchor="middle">4</text>
<text x="351.10" y="387.8" text-anchor="middle">6</text>
<text x="444.30" y="387.8" text-anchor="middle">8</text>
<text x="537.50" y="387.8" text-anchor="middle">10</text>
</g>
<rect x="214.7" y="72.9" width="197.60000000000002" height="118.9" fill="#fff"/>
<g fill="none" stroke-width="1.4" stroke-linejoin="round" clip-path="url(#cp1)">
<path d="M214.70,78.58 L240.20,83.10 L273.50,90.10 L306.80,97.10 L340.10,104.30 L373.40,112.60 L406.70,120.50 L440.00,128.50" stroke="#A2142F" stroke-dasharray="16.5 9.8"/>
<path d="M214.70,78.63 L240.20,84.30 L273.50,92.00 L306.80,100.70 L340.10,110.00 L373.40,119.60 L406.70,129.30 L440.00,139.00" stroke="#77AC30" stroke-dasharray="16.5 9.8"/>
<path d="M214.70,76.70 L240.20,82.90 L273.50,93.20 L306.80,103.60 L340.10,115.60 L373.40,128.10 L406.70,140.80 L440.00,154.00" stroke="#0072BD" stroke-dasharray="16.5 9.8"/>
<path d="M206.90,63.60 L240.20,78.30 L273.50,91.00 L306.80,104.20 L340.10,119.70 L373.40,137.50 L406.70,155.00 L440.00,171.00" stroke="#EDB120"/>
<path d="M206.90,30.00 L240.20,54.00 L273.50,76.70 L306.80,95.60 L340.10,118.10 L373.40,142.70 L406.70,174.40 L440.00,194.40" stroke="#FF0000"/>
<path d="M273.50,19.57 L306.80,54.74 L340.10,89.90 L373.40,132.50 L406.70,191.50 L440.00,260.00" stroke="#00FF00"/>
<path d="M340.10,-25.75 L373.40,57.50 L406.70,212.00 L440.00,378.50" stroke="#00FFFF"/>
</g>
<g stroke="#262626" stroke-width="1" fill="none">
<path d="M214.7,72.9 V191.8 H412.3" stroke-width="1.25"/>
<path d="M214.7,108.60 h2"/>
<path d="M214.7,172.20 h2"/>
<path d="M273.50,191.8 v-2"/>
<path d="M340.10,191.8 v-2"/>
<path d="M406.70,191.8 v-2"/>
</g>
<g font-family="Liberation Sans, Arial, sans-serif" font-size="17" fill="#111" stroke="#111" stroke-width="0.35">
<text x="208.6" y="114.70" text-anchor="end">− 10</text>
<text x="208.6" y="178.30" text-anchor="end">− 12</text>
<text x="273.50" y="212.8" text-anchor="middle">0.6</text>
<text x="340.10" y="212.8" text-anchor="middle">0.62</text>
<text x="406.70" y="212.8" text-anchor="middle">0.64</text>
</g>
<rect x="216.4" y="212.9" width="195.6" height="95.9" fill="#fff"/>
<g fill="none" stroke-width="1.4" stroke-linejoin="round" clip-path="url(#cp2)">
<path d="M216.40,216.39 L217.75,216.88 L219.17,217.37 L220.60,217.84 L222.03,218.29 L223.46,218.73 L224.90,219.17 L226.34,219.59 L227.79,220.00 L229.24,220.39 L231.18,220.85 L233.13,221.25 L235.10,221.60 L236.58,221.84 L238.07,222.06 L239.55,222.26 L241.04,222.46 L242.53,222.65 L244.51,222.89 L246.00,223.07 L247.49,223.24 L248.99,223.41 L250.48,223.57 L251.97,223.72 L253.46,223.87 L254.96,224.00 L256.95,224.17 L258.94,224.33 L260.94,224.46 L262.93,224.59 L264.43,224.68 L265.93,224.76 L267.43,224.84 L268.93,224.92 L270.42,225.00 L271.92,225.07 L273.42,225.14 L274.92,225.21 L276.42,225.28 L277.92,225.35 L279.42,225.41 L280.91,225.46 L282.91,225.53 L284.91,225.60 L286.91,225.65 L288.91,225.69 L290.41,225.72 L291.91,225.76 L293.41,225.79 L294.91,225.82 L296.41,225.86 L297.91,225.90 L299.41,225.94 L300.91,225.98 L302.41,226.02 L303.91,226.06 L305.91,226.11 L307.91,226.15 L309.90,226.19 L311.90,226.22 L313.90,226.25 L315.90,226.28 L317.90,226.30 L319.90,226.33 L321.90,226.35 L323.40,226.37 L324.90,226.39 L326.40,226.40 L327.90,226.42 L329.40,226.43 L330.90,226.45 L332.40,226.46 L333.90,226.48 L335.40,226.49 L336.90,226.50 L338.40,226.51 L339.90,226.53 L341.40,226.54 L342.90,226.55 L344.40,226.56 L345.90,226.57 L347.40,226.58 L348.90,226.59 L350.90,226.61 L352.90,226.62 L354.90,226.63 L356.90,226.65 L358.90,226.66 L360.90,226.67 L362.90,226.68 L364.90,226.70 L366.90,226.71 L368.90,226.72 L370.90,226.73 L372.90,226.74 L374.90,226.76 L376.90,226.77 L378.90,226.78 L380.40,226.79 L381.90,226.79 L383.40,226.80 L384.90,226.81 L386.40,226.82 L387.90,226.82 L389.40,226.83 L390.90,226.84 L392.40,226.84 L393.90,226.85 L395.40,226.85 L396.90,226.86 L398.40,226.86 L399.90,226.87 L401.40,226.87 L402.90,226.88 L404.40,226.88 L406.40,226.89 L408.38,226.89 L410.25,226.90 L411.76,226.90" stroke="#A2142F" stroke-dasharray="16.5 9.8"/>
<path d="M216.40,221.34 L216.75,221.49 L218.14,222.08 L219.52,222.65 L220.92,223.20 L222.79,223.91 L224.20,224.42 L225.62,224.91 L227.04,225.39 L228.47,225.85 L230.39,226.41 L232.33,226.89 L234.28,227.31 L236.24,227.68 L237.72,227.94 L239.20,228.18 L240.69,228.40 L242.17,228.62 L244.15,228.90 L245.64,229.11 L247.13,229.30 L248.61,229.50 L250.10,229.68 L251.59,229.86 L253.09,230.03 L254.58,230.19 L256.57,230.39 L258.56,230.58 L260.55,230.76 L262.04,230.89 L263.54,231.00 L265.03,231.12 L266.53,231.22 L268.03,231.33 L269.52,231.43 L271.02,231.53 L272.52,231.62 L274.02,231.72 L275.51,231.81 L277.01,231.89 L278.51,231.97 L280.01,232.04 L282.01,232.13 L284.00,232.19 L286.00,232.24 L288.00,232.29 L289.50,232.31 L291.00,232.34 L292.50,232.37 L294.00,232.41 L295.50,232.44 L297.00,232.49 L298.50,232.53 L300.00,232.58 L301.50,232.64 L303.00,232.69 L304.50,232.74 L306.00,232.78 L307.99,232.84 L309.99,232.89 L311.99,232.93 L313.99,232.96 L315.99,233.00 L317.99,233.03 L319.99,233.06 L321.99,233.09 L323.99,233.12 L325.49,233.14 L326.99,233.15 L328.49,233.17 L329.99,233.19 L331.49,233.21 L332.99,233.23 L334.49,233.24 L335.99,233.26 L337.49,233.27 L338.99,233.29 L340.49,233.31 L341.99,233.32 L343.49,233.34 L344.99,233.35 L346.49,233.37 L347.99,233.38 L349.49,233.39 L351.49,233.41 L353.49,233.43 L355.49,233.45 L357.49,233.47 L359.49,233.49 L361.49,233.51 L363.49,233.53 L365.49,233.55 L367.49,233.57 L369.49,233.59 L371.49,233.60 L373.49,233.62 L375.49,233.64 L377.49,233.66 L378.99,233.67 L380.49,233.68 L381.99,233.69 L383.49,233.71 L384.99,233.72 L386.49,233.73 L387.99,233.74 L389.49,233.75 L390.99,233.76 L392.49,233.78 L393.99,233.79 L395.49,233.80 L396.99,233.81 L398.49,233.82 L399.99,233.83 L401.49,233.84 L402.99,233.85 L404.99,233.86 L406.99,233.87 L408.94,233.88 L410.68,233.89 L411.66,233.90" stroke="#77AC30" stroke-dasharray="16.5 9.8"/>
<path d="M216.40,229.19 L217.03,229.55 L218.35,230.26 L219.69,230.94 L221.04,231.59 L222.86,232.41 L224.71,233.19 L226.57,233.92 L227.98,234.44 L229.39,234.94 L230.81,235.43 L232.24,235.89 L233.67,236.35 L235.10,236.79 L236.55,237.21 L238.48,237.72 L240.42,238.18 L242.37,238.59 L244.33,238.97 L245.81,239.24 L247.29,239.50 L248.77,239.74 L250.26,239.97 L251.75,240.18 L253.24,240.38 L254.72,240.57 L256.71,240.79 L258.70,240.98 L260.69,241.16 L262.19,241.28 L263.68,241.39 L265.18,241.49 L266.68,241.60 L268.18,241.69 L270.17,241.82 L272.17,241.94 L273.67,242.02 L275.16,242.10 L276.66,242.18 L278.16,242.26 L279.66,242.34 L281.16,242.41 L283.15,242.50 L285.15,242.59 L287.15,242.67 L288.65,242.73 L290.15,242.78 L291.65,242.84 L293.15,242.91 L294.64,242.97 L296.14,243.04 L297.64,243.11 L299.14,243.18 L300.64,243.25 L302.14,243.32 L303.64,243.38 L305.63,243.47 L307.63,243.54 L309.63,243.60 L311.63,243.65 L313.63,243.70 L315.63,243.75 L317.63,243.79 L319.63,243.83 L321.63,243.87 L323.63,243.91 L325.13,243.93 L326.63,243.96 L328.13,243.99 L329.63,244.01 L331.13,244.03 L332.63,244.06 L334.13,244.08 L335.63,244.10 L337.13,244.12 L338.63,244.14 L340.13,244.16 L341.63,244.19 L343.13,244.21 L344.63,244.23 L346.13,244.25 L347.63,244.27 L349.12,244.29 L351.12,244.32 L353.12,244.34 L355.12,244.37 L357.12,244.40 L359.12,244.42 L361.12,244.45 L363.12,244.48 L365.12,244.50 L367.12,244.53 L369.12,244.55 L371.12,244.58 L373.12,244.60 L375.12,244.63 L377.12,244.65 L378.62,244.67 L380.12,244.69 L381.62,244.70 L383.12,244.72 L384.62,244.74 L386.12,244.76 L387.62,244.77 L389.12,244.79 L390.62,244.80 L392.12,244.82 L393.62,244.83 L395.12,244.85 L396.62,244.86 L398.12,244.88 L399.62,244.89 L401.12,244.91 L402.62,244.92 L404.12,244.93 L406.12,244.95 L408.12,244.97 L410.11,244.98 L412.08,245.00" stroke="#0072BD" stroke-dasharray="16.5 9.8"/>
<path d="M214.01,238.59 L215.02,239.70 L216.05,240.79 L217.10,241.86 L218.18,242.90 L219.29,243.92 L220.80,245.22 L222.38,246.45 L224.01,247.60 L225.27,248.42 L226.54,249.21 L227.84,249.96 L229.15,250.69 L230.48,251.39 L232.29,252.25 L234.13,253.02 L236.00,253.71 L237.43,254.19 L238.86,254.63 L240.78,255.18 L242.23,255.57 L243.69,255.94 L245.14,256.29 L246.60,256.64 L248.07,256.98 L249.53,257.30 L251.49,257.71 L253.45,258.08 L255.42,258.42 L256.90,258.67 L258.38,258.91 L259.87,259.13 L261.35,259.36 L262.84,259.57 L264.33,259.77 L265.81,259.96 L267.30,260.14 L269.29,260.37 L271.28,260.57 L273.27,260.77 L275.26,260.95 L276.75,261.08 L278.25,261.21 L279.74,261.33 L281.24,261.44 L282.74,261.55 L284.24,261.64 L285.73,261.74 L287.73,261.84 L289.73,261.94 L291.72,262.02 L293.72,262.09 L295.22,262.14 L296.72,262.19 L298.22,262.24 L299.72,262.29 L301.22,262.35 L302.72,262.42 L304.22,262.49 L305.72,262.56 L307.21,262.63 L308.71,262.70 L310.21,262.77 L312.21,262.85 L314.21,262.93 L316.21,263.00 L318.20,263.07 L320.20,263.13 L322.20,263.18 L324.20,263.24 L326.20,263.29 L327.70,263.33 L329.20,263.37 L330.70,263.41 L332.20,263.44 L333.70,263.48 L335.20,263.51 L336.70,263.55 L338.20,263.58 L339.70,263.61 L341.20,263.64 L342.70,263.67 L344.20,263.70 L345.70,263.73 L347.20,263.76 L348.70,263.78 L350.20,263.81 L351.70,263.83 L353.70,263.86 L355.70,263.90 L357.70,263.92 L359.69,263.95 L361.69,263.98 L363.69,264.01 L365.69,264.04 L367.69,264.07 L369.69,264.10 L371.69,264.12 L373.69,264.15 L375.69,264.18 L377.69,264.20 L379.69,264.23 L381.69,264.25 L383.19,264.27 L384.69,264.28 L386.19,264.30 L387.69,264.32 L389.19,264.33 L390.69,264.35 L392.19,264.36 L393.69,264.38 L395.19,264.39 L396.69,264.40 L398.19,264.42 L399.69,264.43 L401.19,264.44 L402.69,264.45 L404.19,264.46 L406.19,264.47 L408.17,264.48 L410.04,264.49 L411.57,264.50" stroke="#EDB120"/>
<path d="M214.00,262.30 L214.84,263.54 L215.96,265.20 L217.09,266.85 L217.94,268.08 L218.80,269.32 L219.65,270.56 L220.48,271.80 L221.31,273.06 L222.15,274.30 L223.31,275.92 L224.55,277.49 L225.87,278.99 L226.90,280.08 L227.97,281.13 L229.07,282.16 L230.20,283.14 L231.36,284.09 L232.97,285.28 L234.62,286.38 L236.33,287.43 L237.64,288.17 L238.97,288.88 L240.31,289.56 L242.12,290.41 L243.95,291.19 L245.81,291.92 L247.22,292.44 L248.64,292.93 L250.07,293.40 L251.50,293.85 L253.42,294.41 L255.35,294.95 L256.80,295.33 L258.25,295.70 L259.71,296.05 L261.18,296.39 L262.64,296.71 L264.60,297.10 L266.57,297.46 L268.05,297.71 L269.53,297.95 L271.01,298.17 L272.50,298.39 L273.98,298.60 L275.47,298.80 L276.96,299.00 L278.45,299.19 L279.94,299.37 L281.43,299.54 L283.42,299.74 L285.41,299.92 L287.40,300.08 L289.39,300.23 L291.39,300.35 L292.89,300.45 L294.38,300.54 L295.88,300.63 L297.38,300.73 L298.88,300.83 L300.37,300.94 L301.87,301.05 L303.36,301.17 L304.86,301.30 L306.35,301.43 L307.85,301.57 L309.34,301.70 L310.84,301.84 L312.33,301.97 L313.83,302.10 L315.82,302.26 L317.81,302.41 L319.81,302.54 L321.80,302.66 L323.80,302.76 L325.80,302.87 L327.79,302.97 L329.79,303.06 L331.29,303.13 L332.79,303.20 L334.29,303.27 L335.79,303.33 L337.28,303.39 L338.78,303.45 L340.28,303.51 L341.78,303.57 L343.28,303.62 L344.78,303.67 L346.28,303.72 L347.78,303.77 L349.28,303.82 L350.78,303.86 L352.28,303.90 L354.28,303.96 L356.28,304.01 L358.28,304.05 L360.28,304.10 L362.27,304.15 L364.27,304.19 L366.27,304.24 L368.27,304.28 L370.27,304.33 L372.27,304.37 L374.27,304.41 L376.27,304.46 L378.27,304.50 L380.27,304.53 L382.27,304.57 L383.77,304.60 L385.27,304.63 L386.77,304.65 L388.27,304.68 L389.77,304.70 L391.27,304.72 L392.77,304.74 L394.27,304.76 L395.77,304.78 L397.27,304.80 L398.77,304.82 L400.27,304.83 L401.77,304.84 L403.27,304.86 L404.77,304.87 L406.77,304.88 L408.73,304.89 L410.48,304.90 L411.48,304.90" stroke="#FF0000"/>
</g>
<g stroke="#262626" stroke-width="1" fill="none">
<path d="M216.4,212.9 V308.8 H412.0" stroke-width="1.25"/>
<path d="M216.4,233.90 h2"/>
<path d="M216.4,270.25 h2"/>
<path d="M216.4,306.60 h2"/>
<path d="M229.80,308.8 v-2"/>
<path d="M275.34,308.8 v-2"/>
<path d="M320.88,308.8 v-2"/>
<path d="M366.42,308.8 v-2"/>
<path d="M411.96,308.8 v-2"/>
</g>
<g font-family="Liberation Sans, Arial, sans-serif" font-size="17" fill="#111" stroke="#111" stroke-width="0.35">
<text x="210.2" y="240.00" text-anchor="end">− 20</text>
<text x="210.2" y="276.35" text-anchor="end">− 30</text>
<text x="210.2" y="312.70" text-anchor="end">− 40</text>
<text x="229.80" y="329.6" text-anchor="middle">2</text>
<text x="275.34" y="329.6" text-anchor="middle">4</text>
<text x="320.88" y="329.6" text-anchor="middle">6</text>
<text x="366.42" y="329.6" text-anchor="middle">8</text>
<text x="411.96" y="329.6" text-anchor="middle">10</text>
</g>
<rect x="425.6" y="159.0" width="112.1" height="172.6" fill="#fff" stroke="#262626" stroke-width="1.2"/>
<path d="M431.7,173.80 H498" stroke="#A2142F" stroke-width="1.4" fill="none" stroke-dasharray="16.5 9.8"/>
<text x="503" y="179.90" font-family="Liberation Sans, Arial, sans-serif" font-size="17" fill="#000" stroke="#000" stroke-width="0.35">70°</text>
<path d="M431.7,197.68 H498" stroke="#77AC30" stroke-width="1.4" fill="none" stroke-dasharray="16.5 9.8"/>
<text x="503" y="203.78" font-family="Liberation Sans, Arial, sans-serif" font-size="17" fill="#000" stroke="#000" stroke-width="0.35">60°</text>
<path d="M431.7,221.56 H498" stroke="#0072BD" stroke-width="1.4" fill="none" stroke-dasharray="16.5 9.8"/>
<text x="503" y="227.66" font-family="Liberation Sans, Arial, sans-serif" font-size="17" fill="#000" stroke="#000" stroke-width="0.35">50°</text>
<path d="M431.7,245.44 H498" stroke="#EDB120" stroke-width="1.4" fill="none"/>
<text x="503" y="251.54" font-family="Liberation Sans, Arial, sans-serif" font-size="17" fill="#000" stroke="#000" stroke-width="0.35">40°</text>
<path d="M431.7,269.32 H498" stroke="#FF0000" stroke-width="1.4" fill="none"/>
<text x="503" y="275.42" font-family="Liberation Sans, Arial, sans-serif" font-size="17" fill="#000" stroke="#000" stroke-width="0.35">30°</text>
<path d="M431.7,293.20 H498" stroke="#00FF00" stroke-width="1.4" fill="none"/>
<text x="503" y="299.30" font-family="Liberation Sans, Arial, sans-serif" font-size="17" fill="#000" stroke="#000" stroke-width="0.35">20°</text>
<path d="M431.7,317.08 H498" stroke="#00FFFF" stroke-width="1.4" fill="none"/>
<text x="503" y="323.18" font-family="Liberation Sans, Arial, sans-serif" font-size="17" fill="#000" stroke="#000" stroke-width="0.35">10°</text>
<text x="304.5" y="410.5" text-anchor="middle" font-family="Liberation Serif, Times New Roman, serif" font-size="18" fill="#111" stroke="#111" stroke-width="0.25"><tspan font-style="italic">x</tspan> (m)</text>
<text transform="translate(17.5,186.5) rotate(-90)" text-anchor="middle" font-family="Liberation Serif, Times New Roman, serif" font-size="18" fill="#111" stroke="#111" stroke-width="0.25"><tspan font-style="italic">Q</tspan> (dB)</text>
</svg>
</body></html>
